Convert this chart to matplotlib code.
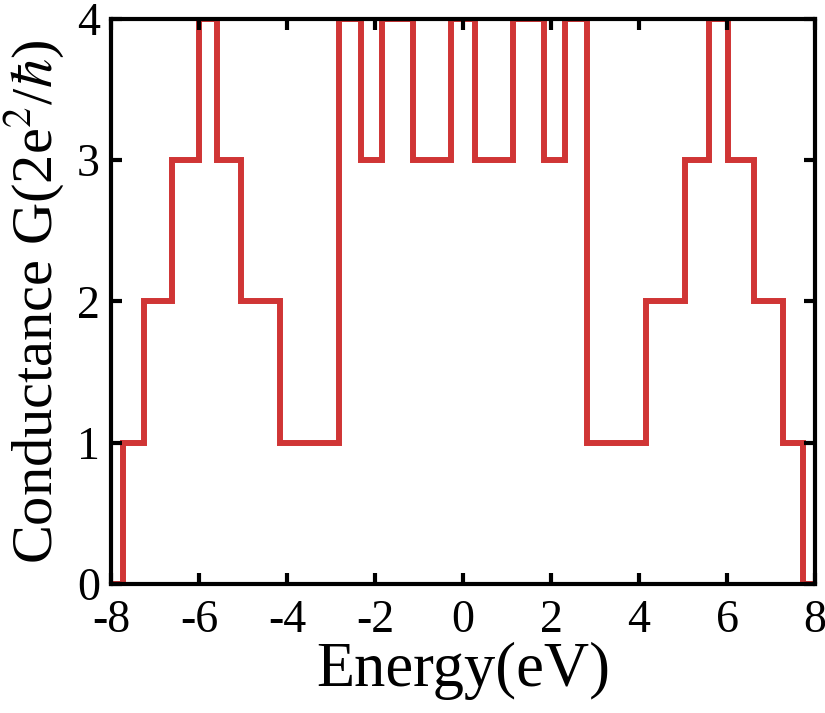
import matplotlib
matplotlib.use("Agg")
import matplotlib.pyplot as plt

# Step edges (eV) and conductance levels (2e^2/h)
energy_edges = [-8, -7.72, -7.26, -6.61, -6.01, -5.59, -5.04, -4.15, -2.82, -2.32,
                -1.84, -1.14, -0.28, 0.28, 1.14, 1.84, 2.32, 2.82, 4.15, 5.04,
                5.59, 6.01, 6.61, 7.26, 7.72, 8]
conductance = [0, 1, 2, 3, 4, 3, 2, 1, 4, 3, 4, 3, 4, 3, 4, 3, 4, 1, 2, 3, 4, 3, 2, 1, 0]
xticks = [-8, -6, -4, -2, 0, 2, 4, 6, 8]
yticks = [0, 1, 2, 3, 4]

plt.rcParams['font.family'] = ['Liberation Serif', 'DejaVu Serif']
plt.rcParams['mathtext.fontset'] = 'stix'

fig = plt.figure(figsize=(8.25, 7.13), dpi=100)
ax = fig.add_axes([0.1345, 0.181, 0.8535, 0.7924])

ax.stairs(conductance, energy_edges, baseline=None, color='#D03535', linewidth=4.3)

ax.set_xlim(-8, 8)
ax.set_ylim(0, 4)
ax.set_xticks(xticks)
ax.set_yticks(yticks)
ax.set_xticklabels([str(t) for t in xticks])
ax.set_yticklabels([str(t) for t in yticks])
ax.tick_params(direction='in', top=True, right=True, length=8, width=3,
               labelsize=33)
ax.tick_params(axis='x', pad=11)
ax.tick_params(axis='y', pad=8)
for s in ax.spines.values():
    s.set_linewidth(3)

ax.set_xlabel('Energy(eV)', fontsize=45, labelpad=0)
ax.set_ylabel(r'Conductance G(2e$^{\mathrm{2}}$/$\hbar$)', fontsize=42, labelpad=2)
ax.yaxis.set_label_coords(-0.062, 0.5)

fig.savefig('out.png', dpi=100)
